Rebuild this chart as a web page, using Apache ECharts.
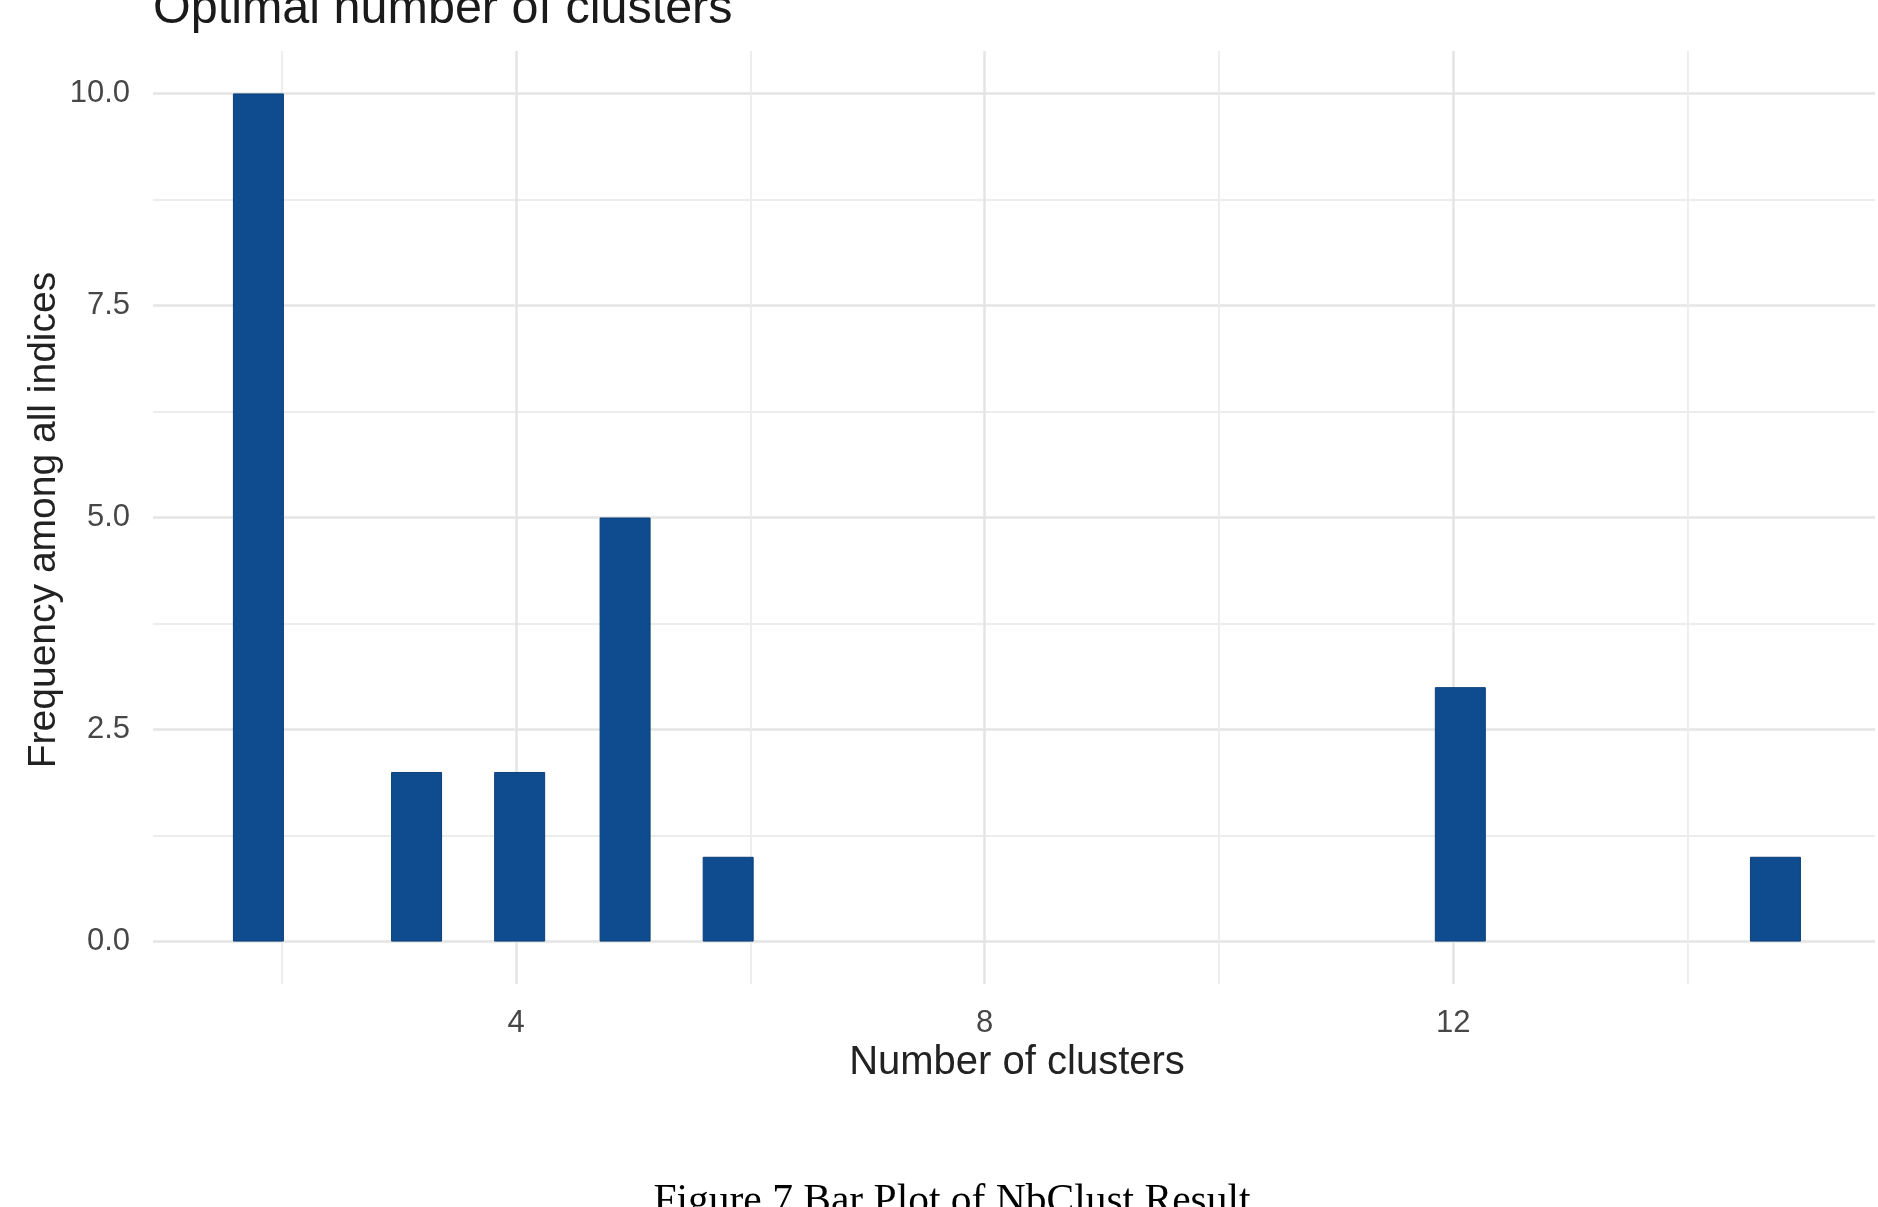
<!DOCTYPE html>
<html>
<head>
<meta charset="utf-8">
<script src="https://cdn.jsdelivr.net/npm/echarts@6/dist/echarts.min.js"></script>
<style>
html,body{margin:0;padding:0;background:#fff;}
#chart{width:1878px;height:1207px;}
</style>
</head>
<body>
<div id="chart"></div>
<script>
// Data
const clusterX = [1.8, 3.15, 4.03, 4.93, 5.81, 12.06, 14.75];
const frequency = [10, 2, 2, 5, 1, 3, 1];
const xTicks = [4, 8, 12];
const yTicks = [0, 2.5, 5, 7.5, 10];
const titleText = 'Optimal number of clusters';
const xTitle = 'Number of clusters';
const yTitle = 'Frequency among all indices';
const captionText = 'Figure 7 Bar Plot of NbClust Result';

const barData = clusterX.map((x, i) => [x, frequency[i]]);
const near = (v, arr) => arr.some(t => Math.abs(v - t) < 1e-6);

const chart = echarts.init(document.getElementById('chart'));
const FONT = '"Liberation Sans", Arial, sans-serif';
chart.setOption({
  animation: false,
  backgroundColor: '#ffffff',
  grid: { left: 153, right: 0, top: 51, bottom: 223, containLabel: false },
  xAxis: {
    type: 'value', min: 0.9, max: 15.6,
    minInterval: 4, maxInterval: 4,
    axisLine: { show: false }, axisTick: { show: false },
    axisLabel: {
      margin: 24, fontSize: 31, color: '#474747', fontFamily: FONT,
      formatter: v => near(v, xTicks) ? String(Math.round(v)) : ''
    },
    splitLine: { show: true, showMinLine: false, showMaxLine: false, lineStyle: { color: '#e4e4e4', width: 2.5 } },
    minorTick: { show: false, splitNumber: 2 },
    minorSplitLine: { show: true, lineStyle: { color: '#ececec', width: 1.8 } }
  },
  yAxis: {
    type: 'value', min: -0.5, max: 10.5,
    minInterval: 2.5, maxInterval: 2.5,
    axisLine: { show: false }, axisTick: { show: false },
    axisLabel: {
      margin: 23, fontSize: 31, color: '#474747', fontFamily: FONT,
      formatter: v => near(v, yTicks) ? v.toFixed(1) : ''
    },
    splitLine: { show: true, showMinLine: false, showMaxLine: false, lineStyle: { color: '#e4e4e4', width: 2.5 } },
    minorTick: { show: false, splitNumber: 2 },
    minorSplitLine: { show: true, lineStyle: { color: '#ececec', width: 1.8 } }
  },
  series: [{
    type: 'bar',
    data: barData,
    barWidth: 51,
    itemStyle: { color: '#0f4c8f', borderColor: '#0b3f78', borderWidth: 1 }
  }],
  graphic: [
    { type: 'text', left: 153, top: -15, style: { text: titleText, font: '48.5px "Liberation Sans", Arial, sans-serif', fill: '#1a1a1a' } },
    { type: 'text', x: 1017, y: 1063, style: { text: xTitle, font: '40px "Liberation Sans", Arial, sans-serif', fill: '#222', align: 'center', verticalAlign: 'middle' } },
    { type: 'text', x: 44, y: 520, rotation: Math.PI / 2, style: { text: yTitle, font: '39px "Liberation Sans", Arial, sans-serif', fill: '#222', align: 'center', verticalAlign: 'middle' } },
    { type: 'text', x: 952, y: 1202, style: { text: captionText, font: '41.5px "Liberation Serif", "Times New Roman", serif', fill: '#000', align: 'center', verticalAlign: 'middle' } }
  ]
});
</script>
</body>
</html>
